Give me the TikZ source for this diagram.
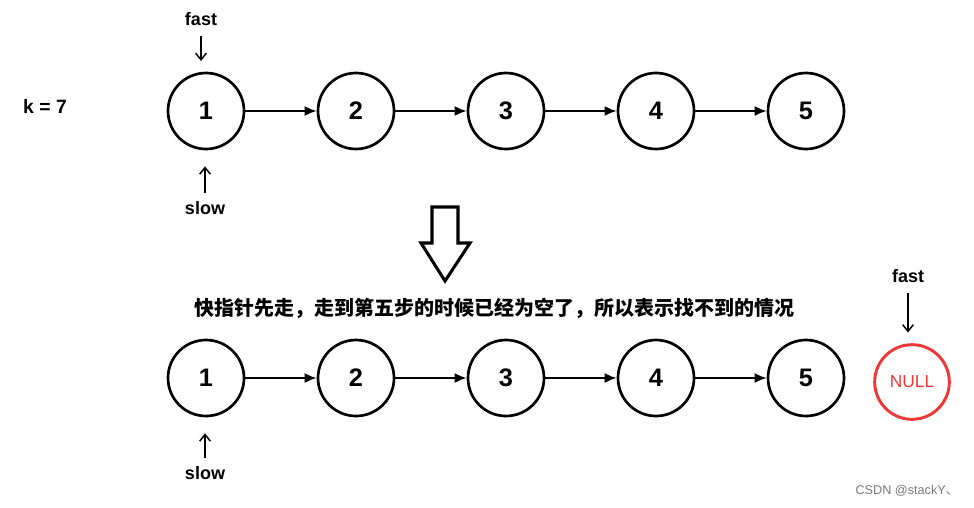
\documentclass[tikz,border=0pt]{standalone}
\usepackage{fontspec}
\setmainfont{Liberation Sans}
\newfontfamily\cjk{Noto Sans CJK SC}
\usepackage{xcolor}
\usetikzlibrary{arrows.meta,positioning}
\definecolor{nullred}{RGB}{238,56,56}
\definecolor{markgray}{RGB}{120,120,120}

\begin{document}
\begin{tikzpicture}[x=0.75pt, y=-0.75pt,
      node distance=53.5pt,
      nd/.style={circle, draw=black, line width=2pt, minimum size=57pt, inner sep=0pt, font=\fontsize{19}{19}\selectfont\bfseries},
      nullnd/.style={circle, draw=nullred, line width=2.2pt, minimum size=56pt, inner sep=0pt, text=nullred, font=\fontsize{13}{13}\selectfont},
      lbl/.style={font=\fontsize{13.5}{13.5}\selectfont\bfseries},
      arr/.style={-{Latex[length=9pt,width=7.5pt]}, line width=1.5pt},
      ptr/.style={-{Straight Barb[length=5pt,width=8pt]}, line width=1.1pt}
    ]
      \useasboundingbox (0,0) rectangle (974,507);
      % before
      \node[lbl, font=\fontsize{14.5}{14.5}\selectfont\bfseries] at (45,106) (k) {k = 7};
      \node[nd] at (206,111) (n1) {1};
      \node[nd, right=of n1] (n2) {2};
      \node[nd, right=of n2] (n3) {3};
      \node[nd, right=of n3] (n4) {4};
      \node[nd, right=of n4] (n5) {5};
      \draw[arr] (n1) -- (n2);
      \draw[arr] (n2) -- (n3);
      \draw[arr] (n3) -- (n4);
      \draw[arr] (n4) -- (n5);
      \node[lbl] at (201,19) (fast1) {fast};
      \node[lbl] at (205,208) (slow1) {slow};
      \draw[ptr, shorten <=4pt, shorten >=8pt] (fast1) -- (fast1 |- n1.north);
      \draw[ptr, shorten <=3pt, shorten >=12pt] (slow1) -- (slow1 |- n1.south);
      % big arrow
      \draw[line width=2.3pt, line join=miter] (432,207) -- (458,207) -- (458,243) -- (470,243)
        -- (445,281) -- (421,243) -- (432,243) -- cycle;
      \node[font=\cjk\fontsize{15}{15}\selectfont\bfseries] at (494,308) (note)
        {快指针先走，走到第五步的时候已经为空了，所以表示找不到的情况};
      % after
      \node[nd] at (206,378) (m1) {1};
      \node[nd, right=of m1] (m2) {2};
      \node[nd, right=of m2] (m3) {3};
      \node[nd, right=of m3] (m4) {4};
      \node[nd, right=of m4] (m5) {5};
      \node[nullnd] at (912,382) (null) {NULL};
      \draw[arr] (m1) -- (m2);
      \draw[arr] (m2) -- (m3);
      \draw[arr] (m3) -- (m4);
      \draw[arr] (m4) -- (m5);
      \node[lbl] at (908,276) (fast2) {fast};
      \node[lbl] at (205,473) (slow2) {slow};
      \draw[ptr, shorten <=4pt, shorten >=8pt] (fast2) -- (fast2 |- null.north);
      \draw[ptr, shorten <=3pt, shorten >=12pt] (slow2) -- (slow2 |- m1.south);
      \node[text=markgray, font=\fontsize{9.5}{9.5}\selectfont] at (907,491) (mark) {CSDN @stackY{\cjk 、}};
    \end{tikzpicture}
\end{document}
